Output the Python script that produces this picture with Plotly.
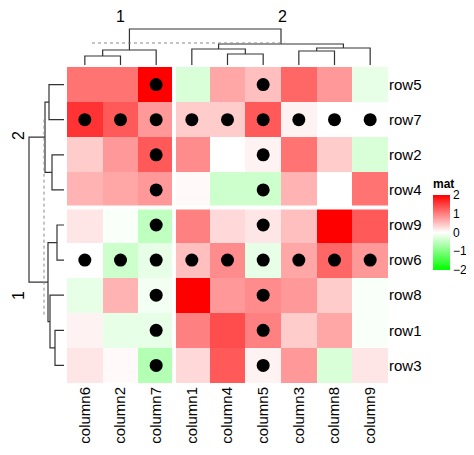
import plotly.graph_objects as go

rows = ["row5", "row7", "row2", "row4", "row9", "row6", "row8", "row1", "row3"]
cols = ["column6", "column2", "column7", "column1", "column4", "column5", "column3", "column8", "column9"]
mat = [
    [1.1, 1.1, 2.0, -0.3, 0.7, 0.5, 1.2, 0.8, -0.2],
    [1.6, 1.3, 0.8, 0.4, 0.4, 1.3, 0.1, 0.0, 0.0],
    [0.4, 0.8, 1.3, 0.9, 0.0, 0.1, 1.1, 0.4, -0.3],
    [0.6, 0.7, 0.8, 0.05, -0.4, -0.4, 0.6, 0.0, 1.1],
    [0.2, -0.05, -0.5, 1.0, 0.3, 0.2, 0.5, 2.0, 1.3],
    [0.0, -0.4, -0.2, 0.5, 0.9, -0.2, 0.7, 1.2, 0.8],
    [-0.2, 0.6, -0.1, 2.1, 0.8, 0.9, 0.8, 0.4, -0.05],
    [0.1, -0.2, -0.2, 1.0, 1.4, 1.0, 0.4, 0.7, -0.05],
    [0.2, 0.05, -0.6, 0.3, 1.3, 0.1, 0.8, -0.3, 0.2],
]
dot_cols = ["column7", "column5"]
dot_rows = ["row7", "row6"]

# dendrogram merges: (left, right, height); leaves are ints, nodes are "n<k>"
col_merges = [(0, 1, 9), ("n0", 2, 15), (4, 5, 11), (3, "n2", 16), (6, 7, 14), ("n4", 8, 17),
              ("n3", "n5", 21), ("n1", "n6", 36)]
row_merges = [(0, 1, 15), (2, 3, 12), ("n0", "n1", 19), (4, 5, 7), (7, 8, 9), (6, "n4", 14),
              ("n3", "n5", 16), ("n2", "n6", 35)]
col_cut = 22
row_cut = 20

W, H, OFF = 474, 455, 8  # page body margin shifts the figure by 8px

def px(x):
    return (x - OFF) / W

def py(y):
    return 1 - (y - OFF) / H

def dendro(merges):
    pos, hgt = {}, {}
    xs, ys = [], []
    for k, (a, b, h) in enumerate(merges):
        pa, ha = (pos[a], hgt[a]) if isinstance(a, str) else (a, 0)
        pb, hb = (pos[b], hgt[b]) if isinstance(b, str) else (b, 0)
        xs += [pa, pa, pb, pb, None]
        ys += [ha, h, h, hb, None]
        pos["n%d" % k] = (pa + pb) / 2
        hgt["n%d" % k] = h
    return xs, ys

font = dict(family="Liberation Sans, Arial", size=15, color="black")
fig = go.Figure()
fig.add_trace(go.Heatmap(
    z=mat, x=list(range(len(cols))), y=list(range(len(rows))),
    zmin=-2, zmax=2,
    colorscale=[[0, "rgb(0,255,0)"], [0.5, "white"], [1, "rgb(255,0,0)"]],
    colorbar=dict(title=dict(text="<b>mat</b>", font=dict(size=12, color="black"), side="top"),
                  x=px(433), xanchor="left",
                  y=py(176), yanchor="top", len=94, lenmode="pixels", thickness=17,
                  tickvals=[-2, -1, 0, 1, 2], ticks="", outlinewidth=0, xpad=0, ypad=0,
                  tickfont=dict(size=12, family="Liberation Sans, Arial", color="black")),
    xaxis="x", yaxis="y"))

dx, dy = [], []
for i, r in enumerate(rows):
    for j, c in enumerate(cols):
        if r in dot_rows or c in dot_cols:
            dx.append(j)
            dy.append(i)
fig.add_trace(go.Scatter(x=dx, y=dy, mode="markers", marker=dict(color="black", size=13),
                         xaxis="x", yaxis="y", showlegend=False))

# split gaps
fig.add_shape(type="line", x0=2.5, x1=2.5, y0=-0.5, y1=8.5, xref="x", yref="y",
              line=dict(color="white", width=4))
fig.add_shape(type="line", x0=-0.5, x1=8.5, y0=3.5, y1=3.5, xref="x", yref="y",
              line=dict(color="white", width=4))

cx, cy = dendro(col_merges)
fig.add_trace(go.Scatter(x=cx, y=cy, mode="lines", line=dict(color="#333", width=1.2),
                         xaxis="x2", yaxis="y2", showlegend=False))
fig.add_trace(go.Scatter(x=[0.2, 5.6], y=[col_cut, col_cut], mode="lines",
                         line=dict(color="#888", width=1, dash="dot"),
                         xaxis="x2", yaxis="y2", showlegend=False))
rx, ry = dendro(row_merges)
fig.add_trace(go.Scatter(x=ry, y=rx, mode="lines", line=dict(color="#333", width=1.2),
                         xaxis="x3", yaxis="y3", showlegend=False))
fig.add_trace(go.Scatter(x=[row_cut, row_cut], y=[1.0, 6.6], mode="lines",
                         line=dict(color="#888", width=1, dash="dot"),
                         xaxis="x3", yaxis="y3", showlegend=False))

hx = [px(67), px(388)]
hy = [py(383), py(67)]
fig.update_layout(
    width=W, height=H, margin=dict(l=0, r=0, t=0, b=0, autoexpand=False),
    plot_bgcolor="white", paper_bgcolor="white", font=font, showlegend=False,
    xaxis=dict(domain=hx, range=[-0.5, 8.5], tickvals=list(range(9)), ticktext=cols,
               tickangle=-90, showgrid=False, zeroline=False, ticks="", automargin=False),
    yaxis=dict(domain=hy, range=[8.5, -0.5], tickvals=list(range(9)), ticktext=rows,
               side="right", showgrid=False, zeroline=False, ticks="", automargin=False),
    xaxis2=dict(domain=hx, range=[-0.5, 8.5], visible=False, anchor="y2"),
    yaxis2=dict(domain=[py(65), py(25)], range=[0, 40], visible=False, anchor="x2"),
    xaxis3=dict(domain=[px(24), px(64)], range=[40, 0], visible=False, anchor="y3"),
    yaxis3=dict(domain=hy, range=[8.5, -0.5], visible=False, anchor="x3"),
)
for txt, x, y, ang in [("1", px(120), py(16), 0), ("2", px(282), py(16), 0),
                       ("2", px(18), py(136), -90), ("1", px(18), py(296), -90)]:
    fig.add_annotation(text=txt, x=x, y=y, xref="paper", yref="paper", showarrow=False,
                       xanchor="center", yanchor="middle",
                       textangle=ang, font=dict(size=16))

fig.write_html("out.html")
